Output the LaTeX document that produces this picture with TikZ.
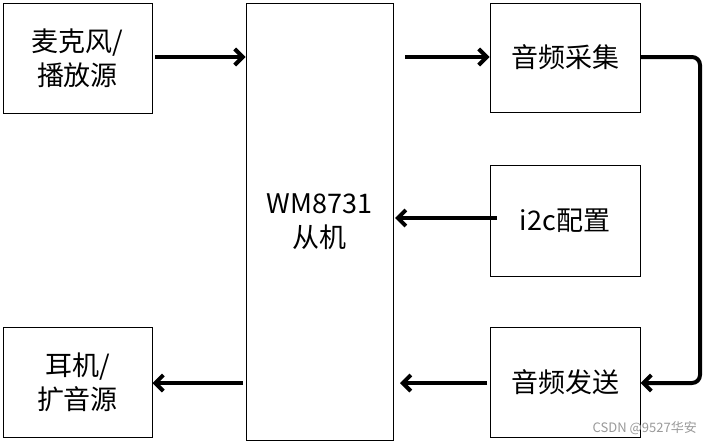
\documentclass[tikz,border=0pt]{standalone}
\usepackage{fontspec}
\setmainfont{Noto Sans CJK SC}
\usetikzlibrary{arrows.meta}
\begin{document}
\begin{tikzpicture}[x=1pt,y=-1pt,
  box/.style={draw=black,line width=1pt,inner sep=0pt,align=center,font=\fontsize{27}{34}\selectfont},
  arr/.style={line width=4pt,-{Straight Barb[length=8pt,width=16pt,line width=4pt]}}]
\useasboundingbox (0,0) rectangle (710,442);
\node[box,minimum width=149,minimum height=110] (mic) at (77.5,58) {麦克风/\\播放源};
\node[box,minimum width=149,minimum height=110] (ear) at (77.5,382) {耳机/\\扩音源};
\node[box,minimum width=147,minimum height=437] (wm) at (319.5,221.5) {WM8731\\从机};
\node[box,minimum width=150,minimum height=109] (cap) at (565,57.5) {音频采集};
\node[box,minimum width=150,minimum height=111] (i2c) at (565,220.5) {i2c配置};
\node[box,minimum width=150,minimum height=110] (snd) at (565,382) {音频发送};
\coordinate (a1) at (155,57); \coordinate (a2) at (405,57);
\coordinate (b1) at (497,218); \coordinate (c1) at (487,383);
\coordinate (d1) at (243,383);
\draw[arr] (a1) -- (wm.west|-a1);
\draw[arr] (a2) -- (cap.west|-a2);
\draw[arr] (b1) -- (395,218);
\draw[arr] (c1) -- (400,383);
\draw[arr] (d1) -- (ear.east|-d1);
\draw[arr,rounded corners=8pt] (cap.east|-a1) -- (700,57) -- (700,383) -- (snd.east|-c1);
\node[anchor=south east,text=gray!80,font=\fontsize{13}{15}\selectfont,inner sep=1pt] (wmk) at (698,436) {CSDN @9527华安};
\end{tikzpicture}
\end{document}
